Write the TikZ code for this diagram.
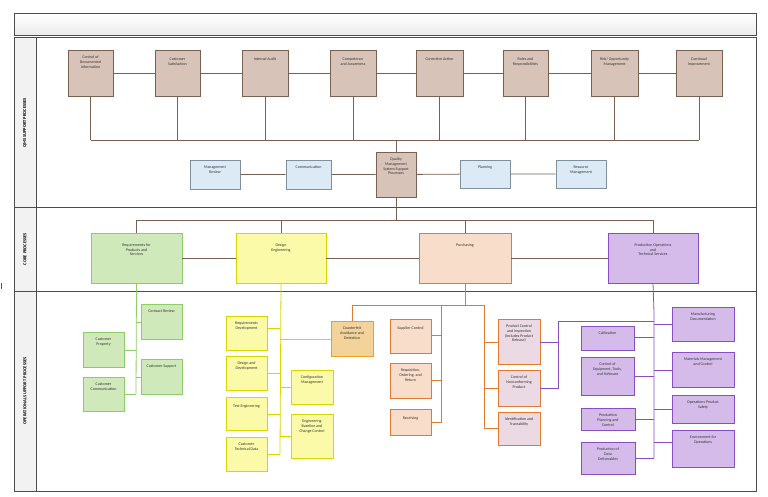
\documentclass[tikz,border=0pt]{standalone}
\usepackage{fontspec}
\setmainfont{Carlito}
\begin{document}
\definecolor{brf}{HTML}{D8C3B8}\definecolor{brd}{HTML}{7A6050}
\definecolor{blf}{HTML}{DCEAF5}\definecolor{bld}{HTML}{7F8FA0}
\definecolor{gnf}{HTML}{CFE9BB}\definecolor{gnd}{HTML}{8DCC66}
\definecolor{ylf}{HTML}{FAFAA8}\definecolor{yld}{HTML}{D6D600}
\definecolor{orf}{HTML}{F8DDCB}\definecolor{ord}{HTML}{E07A2E}
\definecolor{cff}{HTML}{F3D39A}
\definecolor{opf}{HTML}{EBD9E3}
\definecolor{puf}{HTML}{D5BBEA}\definecolor{pud}{HTML}{8A4FBF}
\newcommand{\bx}[7]{\node[box,#6,minimum width={(#4-#2)*1pt},minimum height={(#5-#3)*1pt},
 label={[lab]north:{#7}}] (#1) at ({(#2+#4)/2},{(#3+#5)/2}) {};}
\begin{tikzpicture}[x=1pt,y=-1pt,
 box/.style={draw,line width=0.8pt,inner sep=0pt},
 lab/.style={anchor=north,yshift=-3pt,align=center,font=\fontsize{4}{4.6}\selectfont,text=black!80},
 br/.style={fill=brf,draw=brd},bl/.style={fill=blf,draw=bld},gn/.style={fill=gnf,draw=gnd},
 yl/.style={fill=ylf,draw=yld},orr/.style={fill=orf,draw=ord},op/.style={fill=opf,draw=ord},
 pu/.style={fill=puf,draw=pud},
 ln/.style={line width=0.8pt},
 frame/.style={draw=black!70,line width=1pt},
 side/.style={font=\fontsize{4.5}{5}\selectfont\bfseries,rotate=90}]
\useasboundingbox (0,0) rectangle (768,497);
\draw[magenta,line width=1pt] (1,283) -- (1,289);
% frames
\draw[frame,top color=white,bottom color=black!8] (14,14) rectangle (756,36);
\draw[frame] (14,38) rectangle (756,491);
\draw[frame] (14,208) -- (756,208);
\draw[frame] (14,291) -- (756,291);
\draw[frame,fill=black!5] (14,38) rectangle (36,491);
\draw[frame] (14,208) -- (36,208) (14,291) -- (36,291);
\node[side] (l1) at (25,123) {QMS SUPPORT PROCESSES};
\node[side] (l2) at (25,249) {CORE PROCESSES};
\node[side] (l3) at (25,391) {OPERATIONAL SUPPORT PROCESSES};
% QMS
\bx{a1}{68}{50}{113}{96}{br}{Control of\\Documented\\Information}
\bx{a2}{155}{50}{200}{96}{br}{\\Customer\\Satisfaction}
\bx{a3}{242}{50}{288}{96}{br}{\\Internal Audit}
\bx{a4}{330}{50}{376}{96}{br}{\\Competence\\and Awareness}
\bx{a5}{416}{50}{463}{96}{br}{\\Corrective Action}
\bx{a6}{503}{50}{548}{96}{br}{\\Roles and\\Responsibilities}
\bx{a7}{591}{50}{638}{96}{br}{\\Risk/ Opportunity\\Management}
\bx{a8}{676}{50}{722}{96}{br}{\\Continual\\Improvement}
\foreach \i in {1,...,7}{\pgfmathtruncatemacro\j{\i+1}\draw[ln,draw=brd] (a\i) -- (a\j);}
\foreach \i in {1,...,8}{\draw[ln,draw=brd] (a\i.south) -- (a\i.south |- 0,140);}
\draw[ln,draw=brd] (a1.south |- 0,140) -- (a8.south |- 0,140);
\bx{q}{376}{152}{416}{197}{br}{Quality\\Management\\System Support\\Processes}
\bx{b1}{190}{160}{240}{189}{bl}{Management\\Review}
\bx{b2}{286}{160}{331}{189}{bl}{Communication}
\bx{b3}{460}{160}{510}{188}{bl}{Planning}
\bx{b4}{556}{160}{606}{188}{bl}{Resource\\Management}
\draw[ln,draw=brd] (q.north) -- (q.north |- 0,140);
\draw[ln,draw=brd] (b1) -- (b2) -- (q) -- (b3) -- (b4);
% core
\bx{c1}{91}{233}{182}{283}{gn}{\\[3pt]Requirements for\\Products and\\Services}
\bx{c2}{236}{233}{326}{283}{yl}{\\[3pt]Design\\Engineering}
\bx{c3}{419}{233}{511}{283}{orr}{\\[3pt]Purchasing}
\bx{c4}{608}{233}{698}{283}{pu}{\\[3pt]Production Operations\\and\\Technical Services}
\draw[ln,draw=brd] (q.south) -- (q.south |- 0,220);
\draw[ln,draw=brd] (c1.north) -- (c1.north |- 0,220) -- (c4.north |- 0,220) -- (c4.north)
 (c2.north) -- (c2.north |- 0,220) (c3.north) -- (c3.north |- 0,220);
\draw[ln,draw=brd] (c1) -- (c2) -- (c3) -- (c4);
% green ops
\bx{g1}{141}{304}{182}{339}{gn}{Contract Review}
\bx{g2}{141}{359}{182}{394}{gn}{Customer Support}
\bx{g3}{83}{332}{124}{367}{gn}{Customer\\Property}
\bx{g4}{83}{377}{124}{411}{gn}{Customer\\Communication}
\coordinate (gb) at (136,394);
\draw[ln,draw=gnd] (c1.south) -- (gb);
\draw[ln,draw=gnd] (g1.west |- 0,322) -- (136,322) (g2.west |- 0,377) -- (136,377)
 (g3.east |- 0,350) -- (136,350) (g4.east |- 0,394) -- (gb);
% yellow ops
\bx{y1}{226}{316}{267}{350}{yl}{Requirements\\Development}
\bx{y2}{226}{356}{267}{390}{yl}{Design and\\Development}
\bx{y3}{226}{397}{267}{430}{yl}{\\Test Engineering}
\bx{y4}{226}{437}{267}{471}{yl}{Customer\\Technical Data}
\bx{y5}{291}{370}{333}{404}{yl}{Configuration\\Management}
\bx{y6}{291}{414}{333}{458}{yl}{Engineering\\Baseline and\\Change Control}
\bx{cf}{331}{321}{373}{356}{fill=cff,draw=ord!70!yellow}{Counterfeit\\Avoidance and\\Detection}
\coordinate (yb) at (280,454);
\draw[ln,draw=yld] (c2.south) -- (yb);
\draw[ln,draw=yld] (y1.east |- 0,328) -- (280,328) (y2.east |- 0,373) -- (280,373) (y3.east |- 0,414) -- (280,414) (y4.east |- 0,454) -- (yb)
 (y5.west |- 0,387) -- (280,387) (y6.west |- 0,436) -- (280,436) (cf.west |- 0,339) -- (280,339);
% orange ops
\bx{o1}{390}{319}{431}{353}{orr}{\\Supplier Control}
\bx{o2}{390}{363}{431}{398}{orr}{Requisition,\\Ordering, and\\Return}
\bx{o3}{390}{409}{431}{435}{orr}{\\Receiving}
\bx{p1}{498}{319}{540}{364}{op}{Product Control\\and Inspection\\(includes Product\\Release)}
\bx{p2}{498}{370}{540}{406}{op}{Control of\\Nonconforming\\Product}
\bx{p3}{498}{412}{540}{445}{op}{Identification and\\Traceability}
\draw[ln,draw=ord] (c3.south) -- (c3.south |- 0,305);
\draw[ln,draw=ord] (cf.north) -- (cf.north |- 0,305) -- (484,305) -- (484,428) -- (p3.west |- 0,428);
\draw[ln,draw=ord] (441,305) -- (441,422) -- (o3.east |- 0,422);
\draw[ln,draw=ord] (o1.east |- 0,335) -- (441,335) (o2.east |- 0,380) -- (441,380)
 (p1.west |- 0,342) -- (484,342) (p2.west |- 0,388) -- (484,388);
% purple ops
\bx{u1}{581}{326}{634}{350}{pu}{Calibration}
\bx{u2}{581}{357}{634}{395}{pu}{Control of\\Equipment, Tools,\\and Software}
\bx{u3}{581}{408}{635}{430}{pu}{Production\\Planning and\\Control}
\bx{u4}{581}{442}{635}{474}{pu}{Production of\\Data\\Deliverables}
\bx{v1}{672}{307}{734}{341}{pu}{Manufacturing\\Documentation}
\bx{v2}{672}{352}{734}{387}{pu}{Materials Management\\and Control}
\bx{v3}{672}{395}{734}{423}{pu}{Operations Product\\Safety}
\bx{v4}{672}{430}{734}{467}{pu}{Environment for\\Operations}
\coordinate (ub) at (654,458);
\draw[ln,draw=pud] (c4.south) -- (654,312) -- (ub);
\draw[ln,draw=pud] (p1.east |- 0,342) -- (558,342) (p2.east |- 0,388) -- (558,388) -- (558,321) -- (654,321);
\draw[ln,draw=pud] (u1.east |- 0,337) -- (654,337) (u2.east |- 0,376) -- (654,376) (u3.east |- 0,419) -- (654,419) (u4.east |- 0,458) -- (ub)
 (v1.west |- 0,324) -- (654,324) (v2.west |- 0,370) -- (654,370) (v3.west |- 0,409) -- (654,409) (v4.west |- 0,442) -- (654,442);
\end{tikzpicture}
\end{document}
